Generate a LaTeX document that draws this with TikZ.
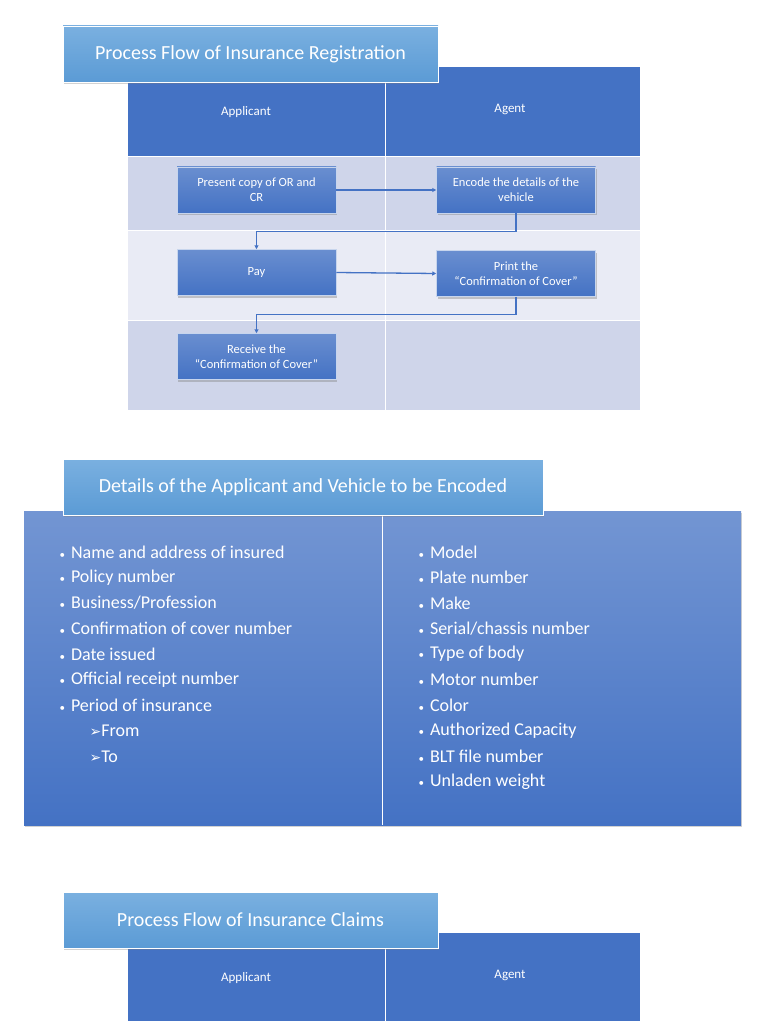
\documentclass[tikz,border=0pt]{standalone}
\usepackage{fontspec}
\setmainfont{Carlito}
\newfontfamily\dejavu{DejaVu Sans}
\usetikzlibrary{arrows.meta,shadows}
\definecolor{hdr}{HTML}{4472C4}
\definecolor{rowA}{HTML}{CFD5EA}
\definecolor{rowB}{HTML}{E9EBF5}
\definecolor{ttl}{HTML}{5B9BD5}
\definecolor{ttlL}{HTML}{7AB0E0}
\tikzset{
 titlebox/.style={draw=white,line width=0.8pt,top color=ttlL,bottom color=ttl,text=white,font=\fontsize{20}{22}\selectfont,drop shadow={opacity=0.35,shadow xshift=1pt,shadow yshift=-2pt}},
 stepbox/.style={draw=white!70!hdr,line width=0.5pt,top color=hdr!80!white,bottom color=hdr,text=white,font=\fontsize{12.5}{15}\selectfont,align=center,minimum width=159pt,minimum height=46pt,inner sep=2pt,drop shadow={opacity=0.4,shadow xshift=1pt,shadow yshift=-2pt}},
 hdrtxt/.style={text=white,font=\fontsize{13}{15}\selectfont},
 conn/.style={draw=hdr,line width=1.3pt,-{Triangle[length=4pt,width=4pt]}},
 bul/.style={text=white,font=\fontsize{18}{22}\selectfont,anchor=west}
}
\begin{document}
\begin{tikzpicture}[x=1pt,y=-1pt]
\useasboundingbox[fill=white] (0,0) rectangle (768,1024);
% table 1
\fill[hdr] (128,67) rectangle (640,156);
\fill[rowA] (128,157) rectangle (640,230);
\fill[rowB] (128,231) rectangle (640,320);
\fill[rowA] (128,321) rectangle (640,410);
\draw[white,line width=1pt] (385,67) -- (385,410);
\draw[white,line width=1.2pt] (128,156.5) -- (640,156.5) (128,230.5) -- (640,230.5) (128,320.5) -- (640,320.5);
\node[hdrtxt] (h1) at (246,112) {Applicant};
\node[hdrtxt] (h2) at (510,109) {Agent};
\node[titlebox,minimum width=375pt,minimum height=56pt] (t1) at (250.5,54) {Process Flow of Insurance Registration};
\node[stepbox] (s1) at (256.5,190) {Present copy of OR and\\CR};
\node[stepbox] (s2) at (516,190) {Encode the details of the\\vehicle};
\node[stepbox] (s3) at (256.5,272.5) {Pay};
\node[stepbox] (s4) at (516,273.5) {Print the\\“Confirmation of Cover”};
\node[stepbox] (s5) at (256.5,356.5) {Receive the\\“Confirmation of Cover”};
\draw[conn] (s1.east) -- (s2.west);
\draw[conn] (s2.south) -- ++(0,18) -| (s3.north);
\draw[conn] (s3.east) -- (s4.west);
\draw[conn] (s4.south) -- ++(0,18) -| (s5.north);
% details
\fill[top color=hdr!75!white,bottom color=hdr,drop shadow={opacity=0.35,shadow xshift=1pt,shadow yshift=-2pt}] (24,511) rectangle (741,825);
\draw[white,line width=1pt] (382,511) -- (382,825);
\node[titlebox,minimum width=480pt,minimum height=56pt] (t2) at (303,487) {Details of the Applicant and Vehicle to be Encoded};
\foreach \t [count=\i from 0] in {Name and address of insured,Policy number,Business/Profession,Confirmation of cover number,Date issued,Official receipt number,Period of insurance}{
 \node[bul] (l\i) at (56,552+25.5*\i) {\fontsize{11}{11}\selectfont•\hspace{6pt}\fontsize{18}{22}\selectfont\t};}
\node[bul] (lf) at (86,731) {{\dejavu\fontsize{14}{14}\selectfont➢}From};
\node[bul] (lt) at (86,756.5) {{\dejavu\fontsize{14}{14}\selectfont➢}To};
\foreach \t [count=\i from 0] in {Model,Plate number,Make,Serial/chassis number,Type of body,Motor number,Color,Authorized Capacity,BLT file number,Unladen weight}{
 \node[bul] (r\i) at (415,552+25.5*\i) {\fontsize{11}{11}\selectfont•\hspace{6pt}\fontsize{18}{22}\selectfont\t};}
% table 3
\fill[hdr] (128,933) rectangle (640,1021);
\draw[white,line width=1pt] (385,933) -- (385,1021);
\node[hdrtxt] (h3) at (246,978) {Applicant};
\node[hdrtxt] (h4) at (510,975) {Agent};
\node[titlebox,minimum width=375pt,minimum height=56pt] (t3) at (250.5,920) {Process Flow of Insurance Claims};
\end{tikzpicture}
\end{document}
